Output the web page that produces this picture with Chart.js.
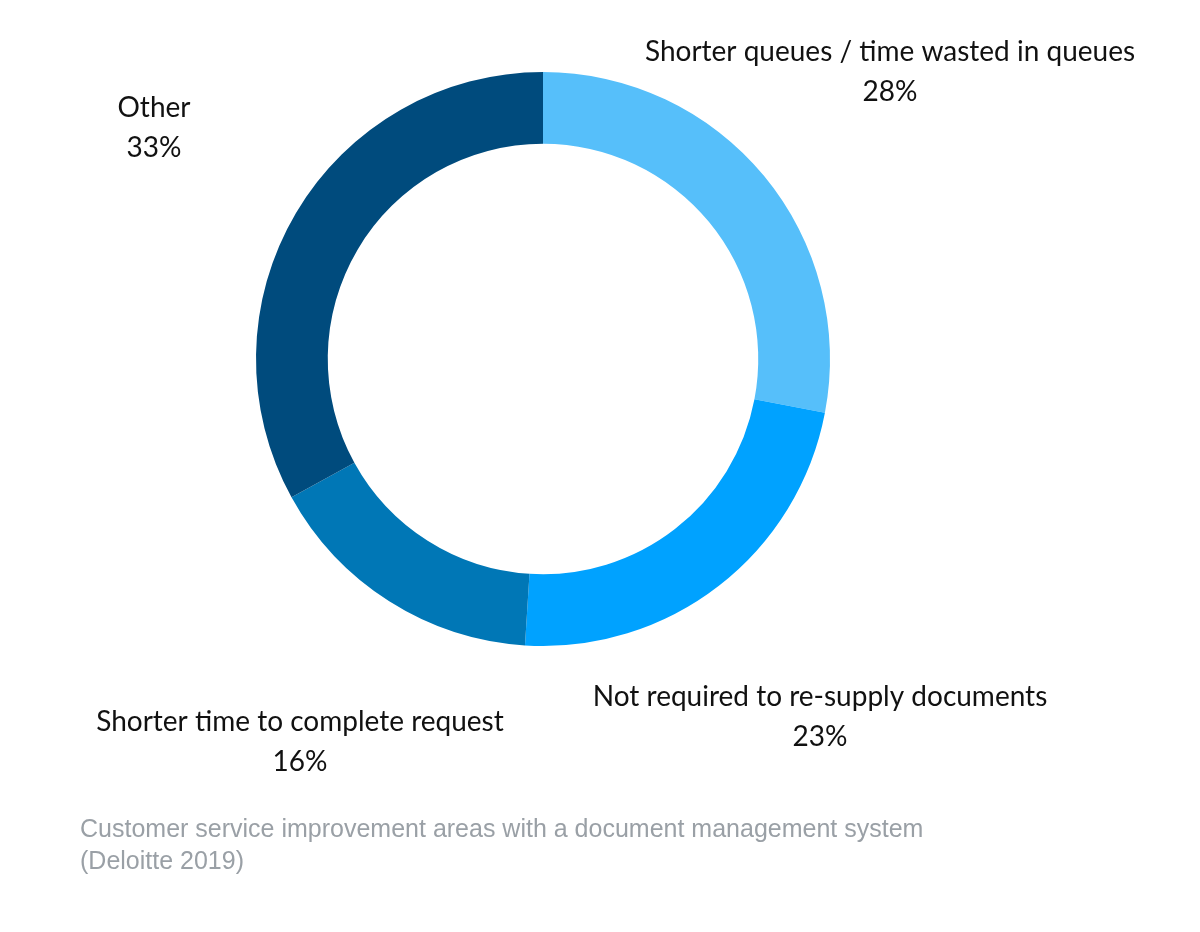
<!DOCTYPE html>
<html>
<head>
<meta charset="utf-8">
<script src="https://cdn.jsdelivr.net/npm/chart.js@4/dist/chart.umd.min.js"></script>
<style>
  html, body { margin: 0; padding: 0; background: #fff; }
  #wrap { width: 1200px; height: 932px; position: relative; }
</style>
</head>
<body>
<div id="wrap"><canvas id="donut"></canvas></div>
<script>
const categories = [
    "Shorter queues / time wasted in queues",
    "Not required to re-supply documents",
    "Shorter time to complete request",
    "Other"
];
const shares = [28, 23, 16, 33];
const sliceColors = ["#56BFFA", "#00A2FF", "#0077B6", "#004B7D"];

// label positions (centre x, first line y) for each slice
const labelSpots = [
    [890, 52], [820, 697], [300, 722], [154, 108]
];

const labelPlugin = {
    id: "sliceLabels",
    afterDraw(chart) {
        const ctx = chart.ctx;
        ctx.save();
        ctx.fillStyle = "#111";
        ctx.font = "28px Lato, 'Open Sans', sans-serif";
        ctx.textAlign = "center";
        ctx.textBaseline = "middle";
        categories.forEach((name, i) => {
            const [x, y] = labelSpots[i];
            ctx.fillText(name, x, y);
            ctx.fillText(shares[i] + "%", x, y + 40);
        });
        // caption
        ctx.fillStyle = "#9aa0a6";
        ctx.font = "25px 'Liberation Sans', Arial, sans-serif";
        ctx.textAlign = "left";
        ctx.fillText("Customer service improvement areas with a document management system", 80, 830);
        ctx.fillText("(Deloitte 2019)", 80, 862);
        ctx.restore();
    }
};

new Chart(document.getElementById("donut"), {
    type: "doughnut",
    data: {
        labels: categories,
        datasets: [{
            data: shares,
            backgroundColor: sliceColors,
            borderWidth: 0
        }]
    },
    options: {
        responsive: true,
        maintainAspectRatio: false,
        animation: false,
        cutout: "75%",
        layout: { padding: { left: 256, right: 370, top: 72, bottom: 286 } },
        plugins: {
            legend: { display: false },
            tooltip: { enabled: false }
        }
    },
    plugins: [labelPlugin]
});
</script>
</body>
</html>
